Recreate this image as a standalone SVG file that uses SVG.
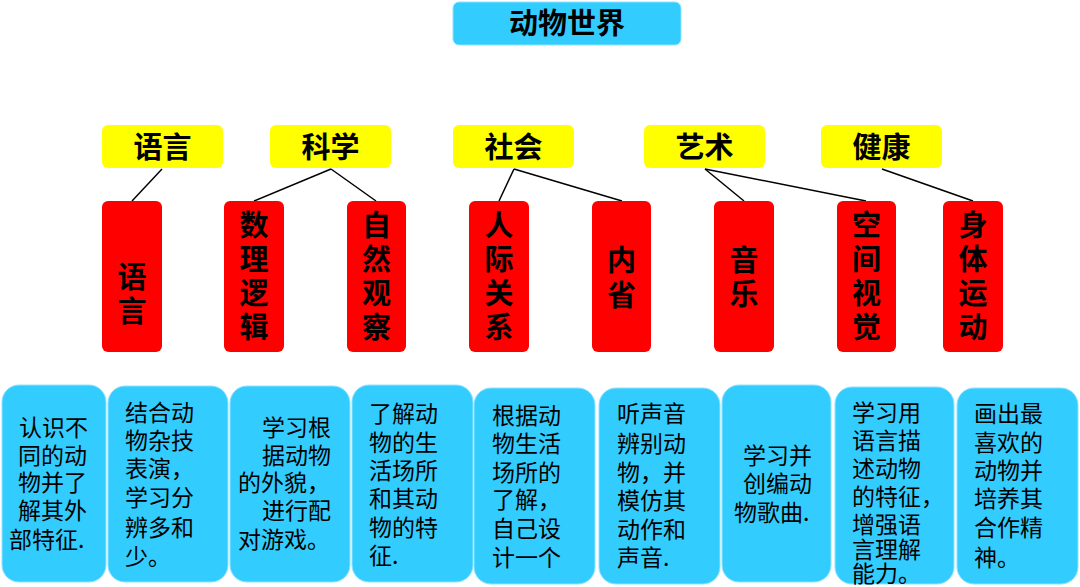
<svg xmlns="http://www.w3.org/2000/svg" width="1080" height="587" viewBox="0 0 1080 587">
<style>
.t{font-family:"Noto Sans CJK SC","Noto Sans",sans-serif;fill:#000}
.h{font-size:29px;font-weight:bold;text-anchor:middle}
.b{font-size:23px}
.blue{fill:#33CCFF;stroke:#8FE3FF;stroke-width:1}
.yel{fill:#FFFF00}
.red{fill:#FF0000}
.ln{stroke:#000;stroke-width:1.5;fill:none}
</style>
<rect width="1080" height="587" fill="#fff"/>
<g id="root">
<rect class="blue" x="453" y="2" width="228" height="43" rx="6"/>
<text class="t h" x="567" y="34">动物世界</text>
</g>
<g id="connectors">
<line class="ln" x1="162" y1="169" x2="132" y2="201"/>
<line class="ln" x1="331" y1="169" x2="254" y2="201"/>
<line class="ln" x1="331" y1="169" x2="376" y2="201"/>
<line class="ln" x1="514" y1="169" x2="499" y2="201"/>
<line class="ln" x1="514" y1="169" x2="622" y2="201"/>
<line class="ln" x1="705" y1="169" x2="744" y2="201"/>
<line class="ln" x1="705" y1="169" x2="866" y2="201"/>
<line class="ln" x1="882" y1="169" x2="973" y2="201"/>
</g>
<g id="cat-yuyan"><rect class="yel" x="102" y="125" width="121" height="43" rx="6"/><text class="t h" x="162.5" y="158">语言</text></g>
<g id="cat-kexue"><rect class="yel" x="270" y="125" width="121" height="43" rx="6"/><text class="t h" x="330.5" y="158">科学</text></g>
<g id="cat-shehui"><rect class="yel" x="453" y="125" width="121" height="43" rx="6"/><text class="t h" x="513.5" y="158">社会</text></g>
<g id="cat-yishu"><rect class="yel" x="644" y="125" width="121" height="43" rx="6"/><text class="t h" x="704.5" y="158">艺术</text></g>
<g id="cat-jiankang"><rect class="yel" x="821" y="125" width="121" height="43" rx="6"/><text class="t h" x="881.5" y="158">健康</text></g>

<g id="int-yuyan"><rect class="red" x="102" y="201" width="60" height="151" rx="6"/>
<text class="t h" x="132" y="288">语</text><text class="t h" x="132" y="322">言</text></g>
<g id="int-shuli"><rect class="red" x="224" y="201" width="60" height="151" rx="6"/>
<text class="t h" x="254" y="236">数</text><text class="t h" x="254" y="270">理</text><text class="t h" x="254" y="304">逻</text><text class="t h" x="254" y="338">辑</text></g>
<g id="int-ziran"><rect class="red" x="347" y="201" width="59" height="151" rx="6"/>
<text class="t h" x="376.5" y="236">自</text><text class="t h" x="376.5" y="270">然</text><text class="t h" x="376.5" y="304">观</text><text class="t h" x="376.5" y="338">察</text></g>
<g id="int-renji"><rect class="red" x="469" y="201" width="60" height="151" rx="6"/>
<text class="t h" x="499" y="236">人</text><text class="t h" x="499" y="270">际</text><text class="t h" x="499" y="304">关</text><text class="t h" x="499" y="338">系</text></g>
<g id="int-neixing"><rect class="red" x="592" y="201" width="59" height="151" rx="6"/>
<text class="t h" x="621.5" y="271">内</text><text class="t h" x="621.5" y="306">省</text></g>
<g id="int-yinyue"><rect class="red" x="714" y="201" width="60" height="151" rx="6"/>
<text class="t h" x="744" y="271">音</text><text class="t h" x="744" y="305">乐</text></g>
<g id="int-kongjian"><rect class="red" x="837" y="201" width="59" height="151" rx="6"/>
<text class="t h" x="866.5" y="236">空</text><text class="t h" x="866.5" y="270">间</text><text class="t h" x="866.5" y="304">视</text><text class="t h" x="866.5" y="338">觉</text></g>
<g id="int-shenti"><rect class="red" x="943" y="201" width="60" height="151" rx="6"/>
<text class="t h" x="973" y="236">身</text><text class="t h" x="973" y="270">体</text><text class="t h" x="973" y="304">运</text><text class="t h" x="973" y="338">动</text></g>

<g id="act-1"><rect class="blue" x="2" y="385" width="104" height="197" rx="17"/>
<text class="t b"><tspan x="19" y="436">认识不</tspan><tspan x="18" y="464">同的动</tspan><tspan x="18" y="491">物并了</tspan><tspan x="18" y="519">解其外</tspan><tspan x="9" y="548">部特征.</tspan></text></g>
<g id="act-2"><rect class="blue" x="108" y="386" width="120" height="196" rx="17"/>
<text class="t b"><tspan x="125" y="421">结合动</tspan><tspan x="125" y="449">物杂技</tspan><tspan x="125" y="477">表演，</tspan><tspan x="125" y="506">学习分</tspan><tspan x="125" y="536">辨多和</tspan><tspan x="125" y="565">少。</tspan></text></g>
<g id="act-3"><rect class="blue" x="230" y="386" width="120" height="196" rx="17"/>
<text class="t b"><tspan x="262" y="436">学习根</tspan><tspan x="262" y="464">据动物</tspan><tspan x="238" y="491">的外貌，</tspan><tspan x="262" y="519">进行配</tspan><tspan x="238" y="548">对游戏。</tspan></text></g>
<g id="act-4"><rect class="blue" x="352" y="385" width="121" height="197" rx="17"/>
<text class="t b"><tspan x="369" y="422">了解动</tspan><tspan x="369" y="451">物的生</tspan><tspan x="369" y="479">活场所</tspan><tspan x="369" y="507">和其动</tspan><tspan x="369" y="536">物的特</tspan><tspan x="369" y="564">征.</tspan></text></g>
<g id="act-5"><rect class="blue" x="474" y="388" width="121" height="196" rx="17"/>
<text class="t b"><tspan x="492" y="424">根据动</tspan><tspan x="492" y="452">物生活</tspan><tspan x="492" y="481">场所的</tspan><tspan x="492" y="508">了解，</tspan><tspan x="492" y="537">自己设</tspan><tspan x="492" y="566">计一个</tspan></text></g>
<g id="act-6"><rect class="blue" x="599" y="388" width="121" height="196" rx="17"/>
<text class="t b"><tspan x="617" y="422">听声音</tspan><tspan x="617" y="452">辨别动</tspan><tspan x="617" y="481">物，并</tspan><tspan x="617" y="509">模仿其</tspan><tspan x="617" y="538">动作和</tspan><tspan x="617" y="566">声音.</tspan></text></g>
<g id="act-7"><rect class="blue" x="722" y="385" width="109" height="197" rx="17"/>
<text class="t b"><tspan x="743" y="464">学习并</tspan><tspan x="743" y="492">创编动</tspan><tspan x="734" y="521">物歌曲.</tspan></text></g>
<g id="act-8"><rect class="blue" x="835" y="387" width="119" height="197" rx="17"/>
<text class="t b"><tspan x="852" y="421">学习用</tspan><tspan x="852" y="449">语言描</tspan><tspan x="852" y="477">述动物</tspan><tspan x="852" y="505">的特征，</tspan><tspan x="852" y="533">增强语</tspan><tspan x="852" y="558">言理解</tspan><tspan x="852" y="582">能力。</tspan></text></g>
<g id="act-9"><rect class="blue" x="957" y="388" width="121" height="196" rx="17"/>
<text class="t b"><tspan x="974" y="422">画出最</tspan><tspan x="974" y="451">喜欢的</tspan><tspan x="974" y="479">动物并</tspan><tspan x="974" y="507">培养其</tspan><tspan x="974" y="536">合作精</tspan><tspan x="974" y="566">神。</tspan></text></g>
</svg>
